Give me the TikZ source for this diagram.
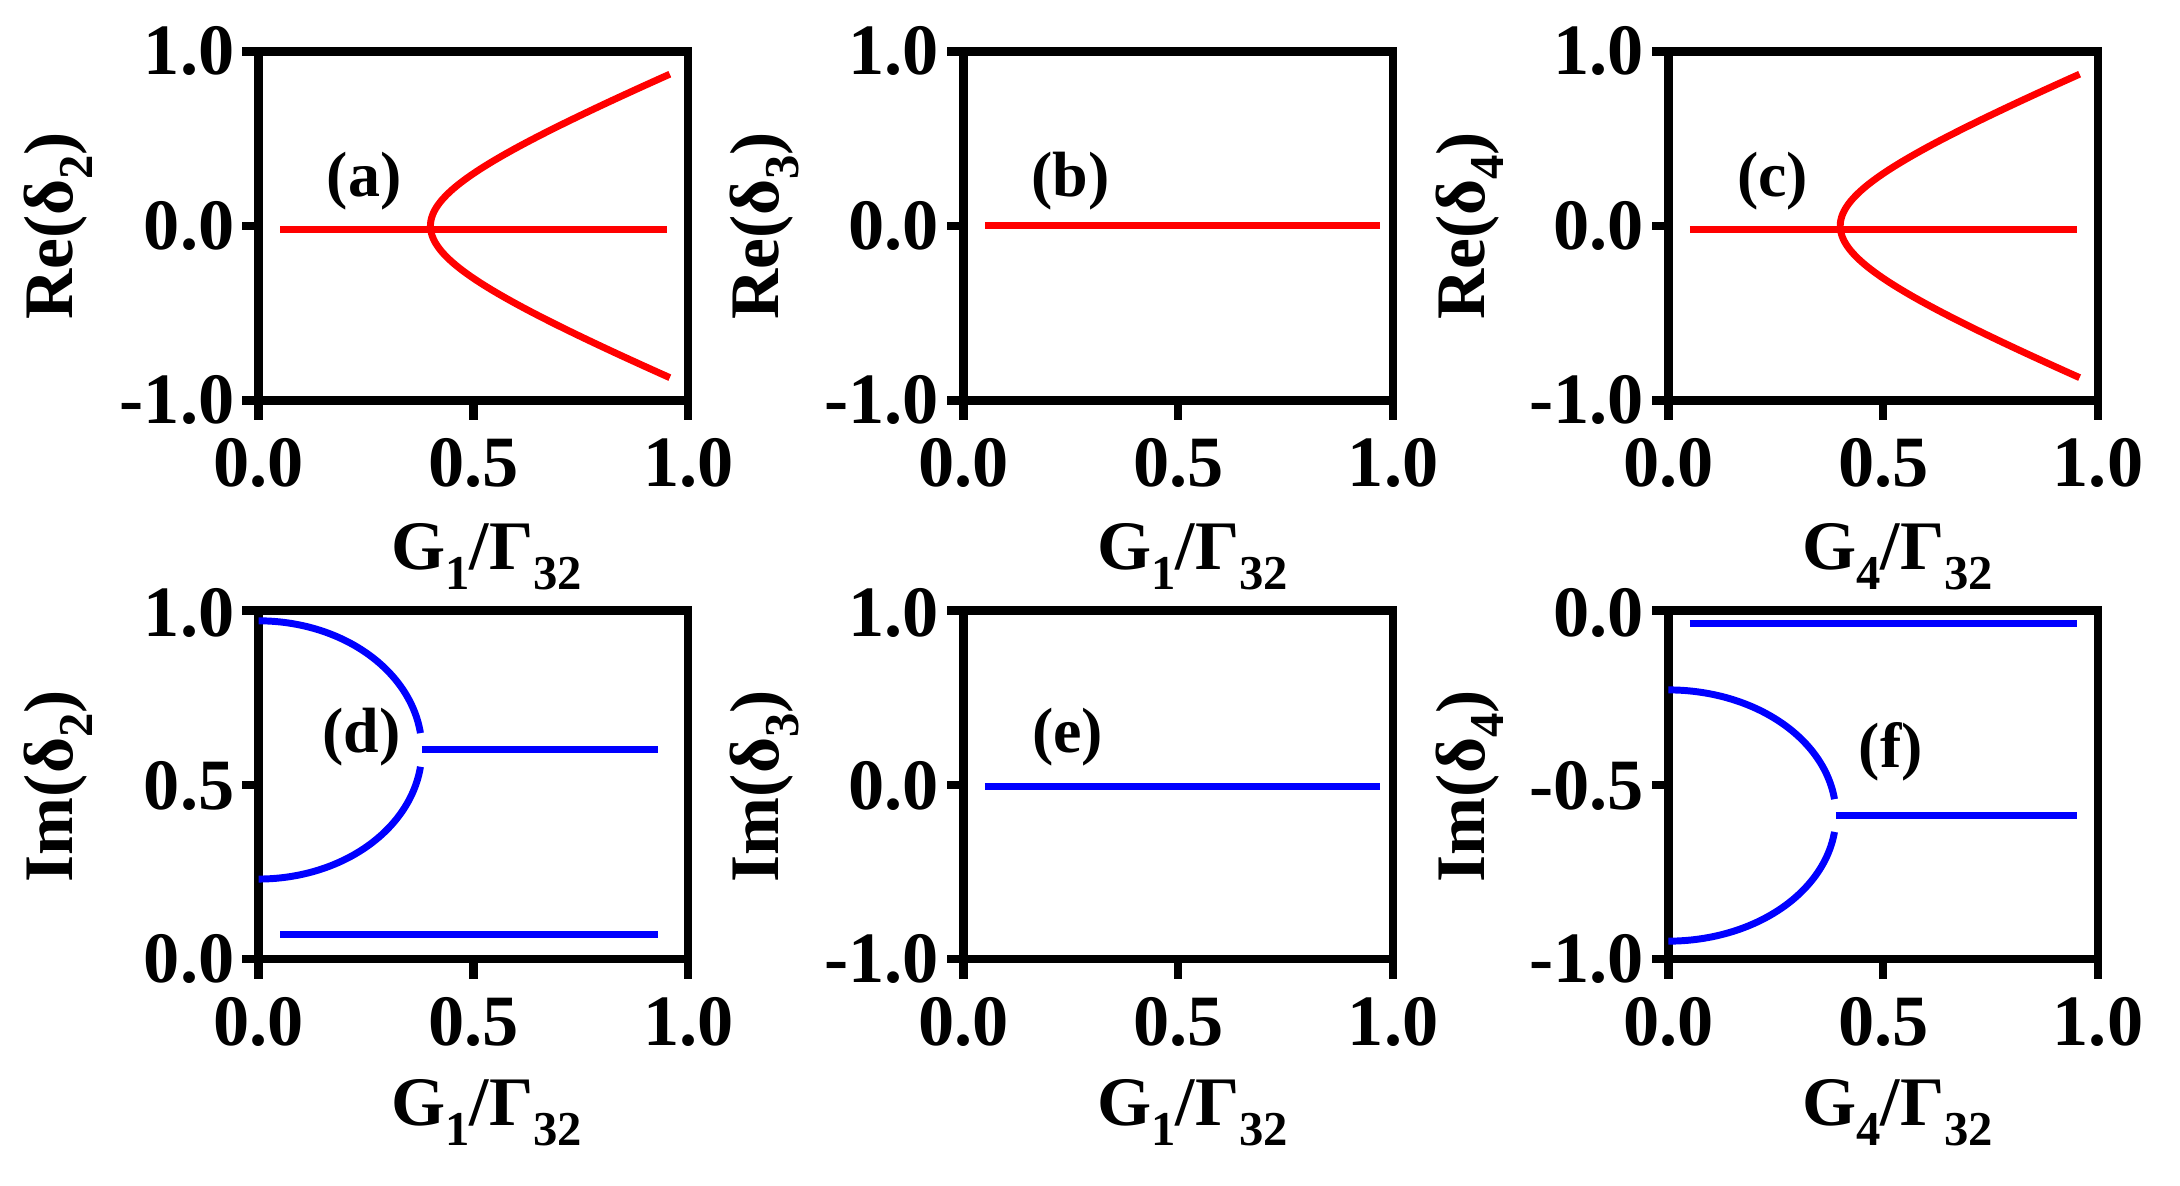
\documentclass[tikz,border=0pt]{standalone}
\usepackage{fontspec}
\setmainfont{Liberation Serif}
\newcommand{\lowsub}[1]{\raisebox{-0.28em}{\fontsize{35}{35}\selectfont #1}}
\tikzset{
  frame/.style={line width=6pt},
  tk/.style={font=\bfseries\fontsize{52}{52}\selectfont},
  lab/.style={font=\bfseries\fontsize{50}{50}\selectfont},
  plab/.style={font=\bfseries\fontsize{46}{46}\selectfont},
  redc/.style={red,line width=5pt},
  bluec/.style={blue,line width=5pt},
}
\newcommand{\myframe}[2]{%
  \draw[frame] (#1,#2) rectangle ++(309,251);
  \foreach \t in {0,125.5,251} \draw[frame] (#1,#2+\t) -- ++(-12,0);
  \foreach \t in {0,154.5,309} \draw[frame] (#1+\t,#2) -- ++(0,-14);
  \node[tk] at (#1,#2-45) {0.0};
  \node[tk] at (#1+154.5,#2-45) {0.5};
  \node[tk] at (#1+309,#2-45) {1.0};
}
\begin{document}
\begin{tikzpicture}[x=1pt,y=1pt]
\useasboundingbox (0,0) rectangle (1568,852.5);
\fill[white] (0,0) rectangle (1568,852.5);
% ---------- top row ----------
\foreach \L in {186,693,1200}{
  \myframe{\L}{564.5}
  \node[tk,anchor=east] at (\L-14,815.5) {1.0};
  \node[tk,anchor=east] at (\L-14,690) {0.0};
  \node[tk,anchor=east] at (\L-14,564.5) {-1.0};
}
\node[lab] at (350,452) {G\lowsub{1}/Γ\lowsub{32}};
\node[lab] at (858,452) {G\lowsub{1}/Γ\lowsub{32}};
\node[lab] at (1365,452) {G\lowsub{4}/Γ\lowsub{32}};
\node[lab,rotate=90] at (42,690) {Re(δ\lowsub{2})};
\node[lab,rotate=90] at (550,690) {Re(δ\lowsub{3})};
\node[lab,rotate=90] at (1057,690) {Re(δ\lowsub{4})};
\node[plab] (la) at (262,722) {(a)};
\node[plab] (lb) at (770,722) {(b)};
\node[plab] (lc) at (1275,722) {(c)};
\foreach \L in {186,1200}{
  \begin{scope}[shift={(\L,690)},x=309pt,y=125.5pt]
    \draw[redc] (0.05,-0.02) -- (0.95,-0.02);
    \draw[redc,domain=0:1,samples=60,variable=\s]
      plot ({0.4*cosh(\s*1.52)},{0.4*sinh(\s*1.52)});
    \draw[redc,domain=0:1,samples=60,variable=\s]
      plot ({0.4*cosh(\s*1.52)},{-0.4*sinh(\s*1.52)});
  \end{scope}
}
\begin{scope}[shift={(693,690)},x=309pt,y=125.5pt]
  \draw[redc] (0.05,0) -- (0.97,0);
\end{scope}
% ---------- bottom row ----------
\myframe{186}{162.5}
\myframe{693}{162.5}
\myframe{1200}{162.5}
\node[tk,anchor=east] at (172,411.5) {1.0};
\node[tk,anchor=east] at (172,287) {0.5};
\node[tk,anchor=east] at (172,162.5) {0.0};
\node[tk,anchor=east] at (679,411.5) {1.0};
\node[tk,anchor=east] at (679,287) {0.0};
\node[tk,anchor=east] at (679,162.5) {-1.0};
\node[tk,anchor=east] at (1186,411.5) {0.0};
\node[tk,anchor=east] at (1186,287) {-0.5};
\node[tk,anchor=east] at (1186,162.5) {-1.0};
\node[lab] at (350,52) {G\lowsub{1}/Γ\lowsub{32}};
\node[lab] at (858,52) {G\lowsub{1}/Γ\lowsub{32}};
\node[lab] at (1365,52) {G\lowsub{4}/Γ\lowsub{32}};
\node[lab,rotate=90] at (42,287) {Im(δ\lowsub{2})};
\node[lab,rotate=90] at (550,287) {Im(δ\lowsub{3})};
\node[lab,rotate=90] at (1057,287) {Im(δ\lowsub{4})};
\node[plab] (ld) at (260,322) {(d)};
\node[plab] (le) at (768,322) {(e)};
\node[plab] (lf) at (1360,312) {(f)};
\begin{scope}[shift={(186,162.5)},x=309pt,y=251pt]
  \draw[bluec] (0.05,0.07) -- (0.93,0.07);
  \draw[bluec] (0.38,0.6) -- (0.93,0.6);
  \draw[bluec,domain=7.5:90,samples=80,variable=\a]
    plot ({0.38*cos(\a)},{0.6+0.37*sin(\a)});
  \draw[bluec,domain=7.5:90,samples=80,variable=\a]
    plot ({0.38*cos(\a)},{0.6-0.37*sin(\a)});
\end{scope}
\begin{scope}[shift={(693,287)},x=309pt,y=125.5pt]
  \draw[bluec] (0.05,0) -- (0.97,0);
\end{scope}
\begin{scope}[shift={(1200,411.5)},x=309pt,y=251pt]
  \draw[bluec] (0.05,-0.03) -- (0.95,-0.03);
  \draw[bluec] (0.39,-0.58) -- (0.95,-0.58);
  \draw[bluec,domain=7.5:90,samples=80,variable=\a]
    plot ({0.39*cos(\a)},{-0.58+0.36*sin(\a)});
  \draw[bluec,domain=7.5:90,samples=80,variable=\a]
    plot ({0.39*cos(\a)},{-0.58-0.36*sin(\a)});
\end{scope}
\end{tikzpicture}
\end{document}
